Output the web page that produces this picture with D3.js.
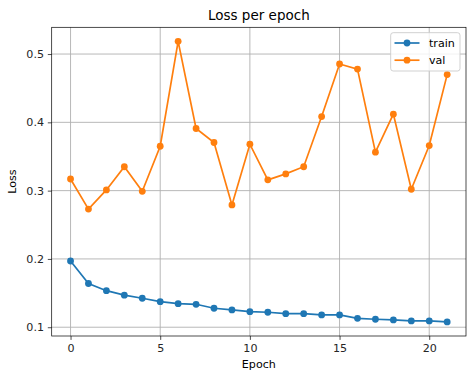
<!DOCTYPE html>
<html><head><meta charset="utf-8">
<script src="https://cdn.jsdelivr.net/npm/d3@7"></script>
<style>body{margin:0;background:#fff;} text{font-family:"DejaVu Sans",sans-serif;}</style>
</head><body>
<svg id="chart" width="474" height="380"></svg>
<script>
const epochs = d3.range(0, 22);
const trainLoss = [0.197,0.164,0.1535,0.147,0.1424,0.1374,0.1345,0.1336,0.1278,0.1253,0.1228,0.1219,0.1199,0.1199,0.118,0.118,0.1131,0.1117,0.1107,0.1092,0.1092,0.1077];
const valLoss = [0.317,0.273,0.301,0.335,0.299,0.365,0.5186,0.391,0.3705,0.279,0.368,0.3158,0.3245,0.335,0.4085,0.4854,0.478,0.3563,0.412,0.302,0.366,0.4699];
const xTicks = [0,5,10,15,20];
const yTicks = [0.1,0.2,0.3,0.4,0.5];
const seriesNames = ["train","val"];
const colors = ["#1f77b4","#ff7f0e"];

const svg = d3.select("#chart");
const L = 51.7, R = 466, T = 27.3, B = 336;
const allV = trainLoss.concat(valLoss);
const vmin = d3.min(allV), vmax = d3.max(allV), pad = (vmax - vmin) * 0.05;
const x = d3.scaleLinear().domain([-1.05, 22.05]).range([L, R]);
const y = d3.scaleLinear().domain([vmin - pad, vmax + pad]).range([B, T]);
const fs = "11.1px";

// grid
const g = svg.append("g");
g.selectAll(".gx").data(xTicks).enter().append("line")
  .attr("x1", d => x(d)).attr("x2", d => x(d)).attr("y1", T).attr("y2", B)
  .attr("stroke", "#b0b0b0").attr("stroke-width", 0.9);
g.selectAll(".gy").data(yTicks).enter().append("line")
  .attr("x1", L).attr("x2", R).attr("y1", d => y(d)).attr("y2", d => y(d))
  .attr("stroke", "#b0b0b0").attr("stroke-width", 0.9);

// axes
const xAxis = d3.axisBottom(x).tickValues(xTicks).tickSize(3.9).tickPadding(3.8).tickFormat(d3.format("d"));
const yAxis = d3.axisLeft(y).tickValues(yTicks).tickSize(3.9).tickPadding(3.8).tickFormat(d3.format(".1f"));
const gx = svg.append("g").attr("transform", `translate(0,${B})`).call(xAxis);
const gy = svg.append("g").attr("transform", `translate(${L},0)`).call(yAxis);
[gx, gy].forEach(a => {
  a.select(".domain").remove();
  a.selectAll("line").attr("stroke", "#000").attr("stroke-width", 0.7);
  a.selectAll("text").attr("fill", "#262626").style("font-size", fs).style("font-family", "DejaVu Sans");
});

// lines
const line = d3.line().x((d, i) => x(epochs[i])).y(d => y(d));
[trainLoss, valLoss].forEach((s, k) => {
  svg.append("path").datum(s).attr("d", line).attr("fill", "none")
    .attr("stroke", colors[k]).attr("stroke-width", 1.7);
  svg.selectAll(".m" + k).data(s).enter().append("circle")
    .attr("cx", (d, i) => x(epochs[i])).attr("cy", d => y(d)).attr("r", 3.4)
    .attr("fill", colors[k]);
});

// frame
svg.append("rect").attr("x", L).attr("y", T).attr("width", R - L).attr("height", B - T)
  .attr("fill", "none").attr("stroke", "#000").attr("stroke-width", 0.7);

// title & labels
svg.append("text").attr("x", (L + R) / 2).attr("y", 20).attr("text-anchor", "middle")
  .style("font-size", "13.5px").attr("fill", "#000").text("Loss per epoch");
svg.append("text").attr("x", (L + R) / 2).attr("y", 368).attr("text-anchor", "middle")
  .style("font-size", fs).attr("fill", "#000").text("Epoch");
svg.append("text").attr("transform", `translate(16,${(T + B) / 2}) rotate(-90)`).attr("text-anchor", "middle")
  .style("font-size", fs).attr("fill", "#000").text("Loss");

// legend
const lg = svg.append("g");
lg.append("rect").attr("x", 390.7).attr("y", 32.7).attr("width", 69.3).attr("height", 38.3)
  .attr("rx", 2.5).attr("fill", "#fff").attr("fill-opacity", 0.8).attr("stroke", "#cccccc").attr("stroke-width", 0.9);
seriesNames.forEach((n, k) => {
  const yy = 43 + k * 17.2;
  lg.append("line").attr("x1", 394.5).attr("x2", 419.5).attr("y1", yy).attr("y2", yy)
    .attr("stroke", colors[k]).attr("stroke-width", 1.7);
  lg.append("circle").attr("cx", 407).attr("cy", yy).attr("r", 3.4).attr("fill", colors[k]);
  lg.append("text").attr("x", 429).attr("y", yy + 4).style("font-size", fs).attr("fill", "#000").text(n);
});
</script>
</body></html>
